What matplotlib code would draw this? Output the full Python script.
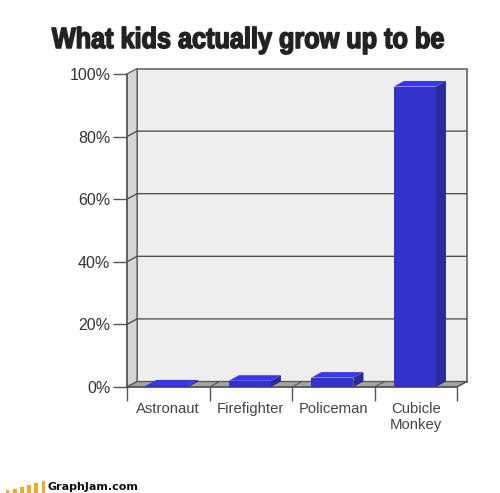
import matplotlib
matplotlib.use("Agg")
import matplotlib.pyplot as plt
from matplotlib.patches import Polygon
from matplotlib.transforms import Affine2D
import matplotlib.patheffects as pe

categories = ["Astronaut", "Firefighter", "Policeman", "Cubicle\nMonkey"]
values = [0.5, 2, 3, 96]
y_ticks = [0, 20, 40, 60, 80, 100]
y_labels = ["0%", "20%", "40%", "60%", "80%", "100%"]
logo_heights = [3, 4, 6, 8, 10, 12]

W, H = 500, 493
fig = plt.figure(figsize=(W / 100, H / 100), dpi=100, facecolor="white")
plt.rcParams["font.family"] = ["Liberation Sans", "DejaVu Sans"]


class Squeeze(pe.AbstractPathEffect):
    """Narrow the glyph outlines about a vertical line, keeping the text real."""

    def __init__(self, cx, sx, lw, color):
        super().__init__()
        self.cx, self.sx, self.lw, self.color = cx, sx, lw, color

    def draw_path(self, renderer, gc, tpath, affine, rgbFace=None):
        a = affine + Affine2D().translate(-self.cx, 0).scale(self.sx, 1).translate(self.cx, 0)
        gc0 = renderer.new_gc()
        gc0.copy_properties(gc)
        gc0.set_linewidth(self.lw)
        gc0.set_foreground(self.color)
        renderer.draw_path(gc0, tpath, a, rgbFace)
        gc0.restore()


L, R, T, B = 127, 457, 74, 387
ax = fig.add_axes([L / W, 1 - B / H, (R - L) / W, (B - T) / H])
ax.set_xlim(0, len(categories))
ax.set_ylim(0, 100)
ax.patch.set_visible(False)
for s in ("top", "right"):
    ax.spines[s].set_visible(False)
for s in ("left", "bottom"):
    ax.spines[s].set_color("#555555")
    ax.spines[s].set_linewidth(1.1)

dx = 10 / (R - L) * len(categories)
dy = 5.5 / (B - T) * 100
edge = "#666666"

# walls and floor
ax.add_patch(Polygon([(dx, dy), (4 + dx, dy), (4 + dx, 100 + dy), (dx, 100 + dy)],
                     fc="#eeeeee", ec=edge, lw=1.2, clip_on=False, zorder=1))
ax.add_patch(Polygon([(0, 0), (dx, dy), (dx, 100 + dy), (0, 100)],
                     fc="#d6d6d6", ec=edge, lw=1.0, clip_on=False, zorder=1))
ax.add_patch(Polygon([(0, 0), (4, 0), (4 + dx, dy), (dx, dy)],
                     fc="#a3a3a3", ec="#555555", lw=0.9, clip_on=False, zorder=1))
for v in y_ticks[1:-1]:
    ax.plot([0, dx, 4 + dx], [v, v + dy, v + dy], color="#444444", lw=0.9,
            clip_on=False, zorder=2, solid_capstyle="butt")
for i in range(1, 5):
    ax.plot([i, i + dx], [0, dy], color="#555555", lw=0.8, clip_on=False, zorder=2)

# 3D bars
bw = 0.51
xs = [i + 0.49 for i in range(len(categories))]
ax.bar(xs, values, width=bw, color="#3333cc", linewidth=0, zorder=5)
for x, v in zip(xs, values):
    l, r = x - bw / 2, x + bw / 2
    ax.add_patch(Polygon([(r, 0), (r + dx, dy), (r + dx, v + dy), (r, v)],
                         fc="#2a2a99", lw=0, clip_on=False, zorder=4))
    ax.add_patch(Polygon([(l, v), (r, v), (r + dx, v + dy), (l + dx, v + dy)],
                         fc="#3737ee", lw=0, clip_on=False, zorder=6))

ax.set_yticks(y_ticks, y_labels, fontsize=11.5, color="#333333")
ax.tick_params(axis="y", length=10, width=1.0, color="#555555", pad=2)
ax.set_xticks(range(5), [""] * 5)
ax.tick_params(axis="x", length=10, width=1.0, color="#555555")
for x, c in zip([i + 0.5 for i in range(4)], categories):
    ax.annotate(c, (x, 0), xytext=(0, -11), textcoords="offset points",
                ha="center", va="top", fontsize=10.7, color="#444444", linespacing=1.15)

# title
fig.text(248 / W, 1 - 40 / H, "What kids actually grow up to be",
         ha="center", va="center", fontsize=21, fontweight="bold", color="#222222",
         path_effects=[Squeeze(248, 0.865, 1.1, "#222222")])

# logo
lax = fig.add_axes([4 / W, 1 - 492.5 / H, 43 / W, 12 / H])
lax.bar(range(len(logo_heights)), logo_heights, width=0.5, color="#f7a823")
lax.set_ylim(0, 12)
lax.set_xlim(-0.5, 5.5)
lax.axis("off")
fig.text(48 / W, 1 - 487 / H, "GraphJam.com", ha="left", va="center", fontsize=8,
         fontweight="bold", color="#111111", family="DejaVu Sans")

fig.savefig("out.png", dpi=100, facecolor="white")
